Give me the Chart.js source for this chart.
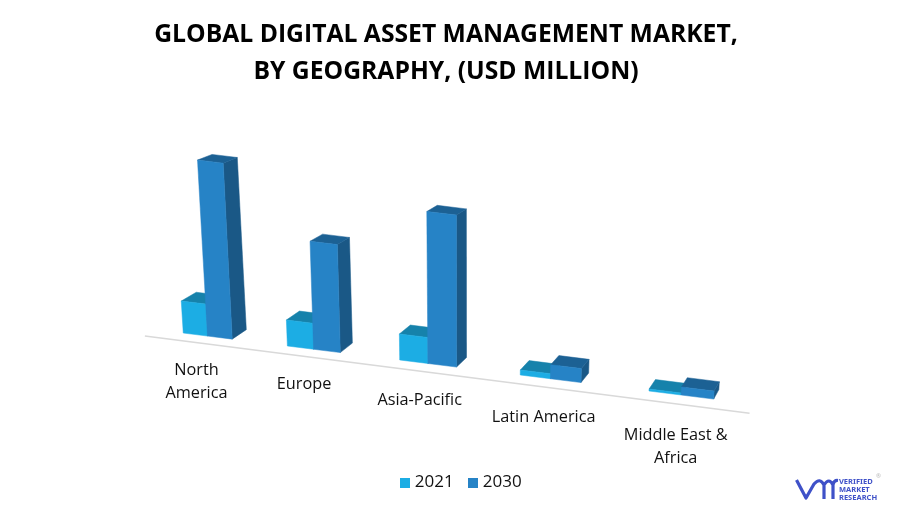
<!doctype html>
<html>
<head>
<meta charset="utf-8" />
<title>Global Digital Asset Management Market</title>
<script src="https://cdn.jsdelivr.net/npm/chart.js@4"></script>
<style>
html, body { margin: 0; padding: 0; background: #fff; }
canvas { display: block; }
</style>
</head>
<body>
<canvas id="myChart" width="912" height="511"></canvas>
<script>
const titleLines = ['GLOBAL DIGITAL ASSET MANAGEMENT MARKET,', 'BY GEOGRAPHY, (USD MILLION)'];
const regions = [['North', 'America'], 'Europe', 'Asia-Pacific', 'Latin America', ['Middle East &', 'Africa']];
const seriesNames = ['2021', '2030'];
const values2021 = [32, 26, 26, 5, 2];
const values2030 = [176, 108, 152, 14, 8];
const yMax = 200;

const faces = [
  {front: '#1cade4', top: '#1682ab', side: '#157fa8'},
  {front: '#2683c6', top: '#1c6194', side: '#1a5886'},
];
const font = '"Open Sans", sans-serif';

// the picture is a tilted 3D chart, so scale pixels are pushed through this view
function groundX(i) { return 207.5 + 102 * i + 4.1 * i * i; }
function groundY(x) { return 333 + 0.1245 * (x - 183); }
function project(i, h, depth) {
  const xb = groundX(i);
  const dx = (15 - 0.0185 * (xb - 183)) * depth;
  const dy = (-9.5 + 0.022 * h) * depth;
  return [xb + (xb - 460) * 0.000225 * h + dx, groundY(xb) - h + dy];
}
function poly(ctx, pts, color) {
  ctx.beginPath();
  pts.forEach((p, n) => n ? ctx.lineTo(p[0], p[1]) : ctx.moveTo(p[0], p[1]));
  ctx.closePath();
  ctx.fillStyle = color;
  ctx.fill();
  ctx.strokeStyle = color;
  ctx.lineWidth = 0.5;
  ctx.stroke();
}
// legend swatch as an image, the text sits closer to it than the default gap
function swatch(color) {
  const c = document.createElement('canvas');
  c.width = c.height = 10;
  const g = c.getContext('2d');
  g.fillStyle = color;
  g.fillRect(0, 0, 10, 10);
  return c;
}

const view3d = {
  id: 'view3d',
  afterLayout(chart) {
    // title sits a little left of the middle, legend a little right
    chart.titleBlock.left -= 10;
    chart.titleBlock.right -= 10;
    chart.legend.left += 6.5;
    chart.legend.right += 6.5;
    // labels run down the slope, let them go past the axis box
    chart.scales.x.bottom = 475;
  },
  beforeDraw(chart) {
    const sx = chart.scales.x;
    const w = sx.width / regions.length;
    sx.getLabelItems().forEach((item, i) => {
      const xb = groundX(i);
      item.textOffset = 0;
      item.options.textBaseline = 'middle';
      item.options.translation = [xb - 11 + 1.4 * i, groundY(xb) + 34 + 1.6 * i];
    });
    // axis line, same tilt as the bars
    const ctx = chart.ctx;
    const line = [-0.63, (sx.right - sx.left) / w - 0.5].map(i => {
      const x = groundX(i);
      return [x, groundY(x) + 7.7 + 0.0033 * (x - 145)];
    });
    ctx.save();
    ctx.strokeStyle = '#d9d9d9';
    ctx.lineWidth = 1.5;
    ctx.beginPath();
    ctx.moveTo(line[0][0], line[0][1]);
    ctx.lineTo(line[1][0], line[1][1]);
    ctx.stroke();
    ctx.restore();
  },
  beforeDatasetsDraw(chart) {
    const ctx = chart.ctx;
    const sx = chart.scales.x;
    const sy = chart.scales.y;
    const w = sx.width / regions.length;
    const unit = (sy.getPixelForValue(0) - sy.getPixelForValue(yMax)) / yMax;
    chart.data.datasets.forEach((ds, d) => {
      chart.getDatasetMeta(d).data.forEach(bar => {
        const a = (bar.x - bar.width / 2 - sx.left) / w - 0.5;
        const b = (bar.x + bar.width / 2 - sx.left) / w - 0.5;
        const h = (bar.base - bar.y) / unit;
        const c = faces[d];
        poly(ctx, [project(b, 0, 0), project(b, 0, 1), project(b, h, 1), project(b, h, 0)], c.side);
        poly(ctx, [project(a, h, 0), project(a, h, 1), project(b, h, 1), project(b, h, 0)], c.top);
        poly(ctx, [project(a, 0, 0), project(b, 0, 0), project(b, h, 0), project(a, h, 0)], c.front);
      });
    });
    return false;
  },
  afterDraw(chart) {
    // Verified Market Research logo
    const ctx = chart.ctx;
    ctx.save();
    ctx.strokeStyle = '#3f51c8';
    ctx.lineWidth = 3.2;
    ctx.lineJoin = 'round';
    ctx.beginPath();
    ctx.moveTo(796.5, 480);
    ctx.lineTo(806, 498);
    ctx.lineTo(814, 484);
    ctx.quadraticCurveTo(820, 477, 824, 485);
    ctx.lineTo(824, 499);
    ctx.moveTo(824, 485);
    ctx.quadraticCurveTo(829, 477, 833, 485);
    ctx.lineTo(833, 499);
    ctx.moveTo(833, 485);
    ctx.quadraticCurveTo(834, 480, 838, 480.5);
    ctx.stroke();
    ctx.fillStyle = '#3f51c8';
    ctx.font = 'bold 7.5px "Noto Sans", sans-serif';
    ctx.textBaseline = 'middle';
    ctx.fillText('VERIFIED', 839, 482);
    ctx.fillText('MARKET', 839, 490);
    ctx.fillText('RESEARCH', 839, 498);
    ctx.fillStyle = '#bbbbbb';
    ctx.font = '6px "Noto Sans", sans-serif';
    ctx.fillText('®', 876, 476);
    ctx.restore();
  },
};

new Chart(document.getElementById('myChart'), {
  type: 'bar',
  data: {
    labels: regions,
    datasets: [
      {label: seriesNames[0], data: values2021, backgroundColor: faces[0].front, borderWidth: 0},
      {label: seriesNames[1], data: values2030, backgroundColor: faces[1].front, borderWidth: 0},
    ],
  },
  options: {
    responsive: false,
    animation: false,
    layout: {padding: {top: 16, bottom: 10, left: 0, right: 0}},
    datasets: {bar: {categoryPercentage: 0.48, barPercentage: 1}},
    scales: {
      x: {
        grid: {display: false},
        border: {display: false},
        afterFit(scale) { scale.height = 100; },
        ticks: {
          autoSkip: false,
          maxRotation: 0,
          color: '#111',
          font: {family: font, size: 16.3, lineHeight: 1.42},
        },
      },
      y: {display: false, min: 0, max: yMax},
    },
    plugins: {
      title: {
        display: true,
        text: titleLines,
        color: '#000',
        font: {family: font, size: 24.7, weight: 'bold', lineHeight: 1.5},
        padding: {top: 0, bottom: 8},
      },
      legend: {
        display: true,
        position: 'bottom',
        labels: {
          usePointStyle: true,
          pointStyleWidth: 3,
          boxHeight: 10,
          padding: 17.5,
          color: '#111',
          font: {family: font, size: 17},
          generateLabels(chart) {
            const items = Chart.defaults.plugins.legend.labels.generateLabels(chart);
            items.forEach((item, i) => { item.pointStyle = swatch(faces[i].front); });
            return items;
          },
        },
      },
      tooltip: {enabled: false},
    },
  },
  plugins: [view3d],
});
</script>
</body>
</html>
